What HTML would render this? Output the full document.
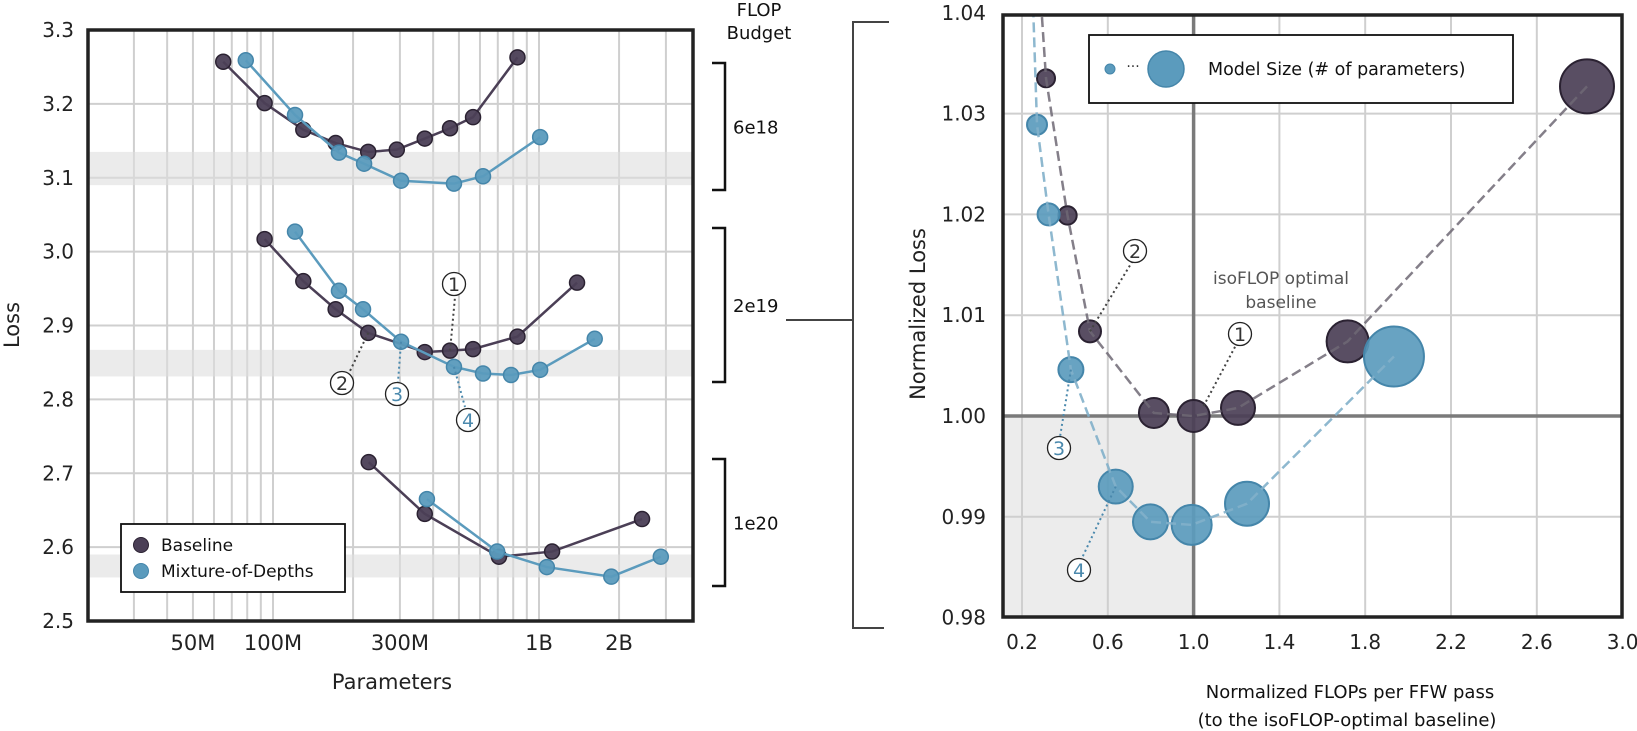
<!DOCTYPE html>
<html><head><meta charset="utf-8"><style>
html,body{margin:0;padding:0;background:#fff;}
svg{display:block;}
text{font-family:"DejaVu Sans","Liberation Sans",sans-serif;}
</style></head><body>
<svg id="fig" width="1637" height="731" viewBox="0 0 1637 731" xmlns="http://www.w3.org/2000/svg">
<defs>
<clipPath id="clipL"><rect x="88" y="30" width="605" height="591"/></clipPath>
<clipPath id="clipR"><rect x="1003" y="15" width="619" height="602"/></clipPath>
</defs>
<g id="left"></g>
<g id="mid"></g>
<g id="right"></g>
</svg>
<script>
// ---------- Left chart data ----------
const leftYTicks = [2.5, 2.6, 2.7, 2.8, 2.9, 3.0, 3.1, 3.2, 3.3];
const leftXTickVals = [5e7, 1e8, 3e8, 1e9, 2e9];
const leftXTickLabels = ["50M", "100M", "300M", "1B", "2B"];
const budgets = ["6e18", "2e19", "1e20"];
const base6e18Params = [65e6, 93e6, 130e6, 172e6, 228e6, 292e6, 372e6, 463e6, 565e6, 830e6];
const base6e18Loss = [3.257, 3.201, 3.165, 3.147, 3.135, 3.138, 3.153, 3.167, 3.182, 3.263];
const mod6e18Params = [79e6, 121e6, 177e6, 220e6, 303e6, 479e6, 616e6, 1.01e9];
const mod6e18Loss = [3.259, 3.185, 3.134, 3.119, 3.096, 3.092, 3.102, 3.155];
const base2e19Params = [93e6, 130e6, 172e6, 228e6, 372e6, 463e6, 565e6, 830e6, 1.39e9];
const base2e19Loss = [3.017, 2.960, 2.922, 2.890, 2.864, 2.866, 2.868, 2.885, 2.958];
const mod2e19Params = [121e6, 177e6, 218e6, 303e6, 479e6, 616e6, 785e6, 1.01e9, 1.62e9];
const mod2e19Loss = [3.027, 2.947, 2.922, 2.878, 2.844, 2.835, 2.833, 2.840, 2.882];
const base1e20Params = [229e6, 372e6, 707e6, 1.12e9, 2.44e9];
const base1e20Loss = [2.715, 2.645, 2.587, 2.594, 2.638];
const mod1e20Params = [379e6, 696e6, 1.07e9, 1.87e9, 2.87e9];
const mod1e20Loss = [2.665, 2.594, 2.573, 2.560, 2.587];
const bandLo = [3.090, 2.831, 2.559];
const bandHi = [3.135, 2.867, 2.590];

// ---------- Right chart data ----------
const rightXTicks = [0.2, 0.6, 1.0, 1.4, 1.8, 2.2, 2.6, 3.0];
const rightYTicks = [0.98, 0.99, 1.00, 1.01, 1.02, 1.03, 1.04];
const baseFlops = [0.27, 0.312, 0.412, 0.517, 0.815, 1.0, 1.207, 1.718, 2.834];
const baseNormLoss = [1.047, 1.0335, 1.0199, 1.0084, 1.0003, 1.0000, 1.0008, 1.0074, 1.0327];
const baseSizeM = [60, 76, 82, 142, 333, 394, 459, 772, 1391];
const modFlops = [0.245, 0.270, 0.324, 0.428, 0.637, 0.799, 0.991, 1.249, 1.934];
const modNormLoss = [1.045, 1.0289, 1.0200, 1.0046, 0.9930, 0.9895, 0.9892, 0.9913, 1.0059];
const modSizeM = [80, 106, 142, 204, 459, 494, 686, 862, 1769];

const NS = "http://www.w3.org/2000/svg";
function mk(parent, tag, attrs, txt){
  const e = document.createElementNS(NS, tag);
  for (const k in attrs) e.setAttribute(k, attrs[k]);
  if (txt !== undefined) e.textContent = txt;
  parent.appendChild(e);
  return e;
}
const BASE_FILL = "#4b3f56", BASE_EDGE = "#2b2232";
const MOD_FILL = "#5b9bbd", MOD_EDGE = "#4586aa";

// ---------- Left chart ----------
const L = document.getElementById("left");
const lx = p => 273 + 266 * Math.log10(p / 1e8);
const ly = v => 30 + (3.3 - v) / 0.8 * 591;

const gl = mk(L, "g", {"clip-path": "url(#clipL)"});


for (let dec = 1e7; dec <= 1e9; dec *= 10) {
  for (let m = 1; m <= 9; m++) {
    const x = lx(dec * m);
    if (x < 88 || x > 693) continue;
    const ln = mk(gl, "line", {x1: x, x2: x, y1: 30, y2: 621, stroke: "#cfcfcf", "stroke-width": 2});
    
    
  }
}
for (const v of leftYTicks) {
  const ln = mk(gl, "line", {x1: 88, x2: 693, y1: ly(v), y2: ly(v), stroke: "#cfcfcf", "stroke-width": 2});
  
  
}
for (let i = 0; i < budgets.length; i++) {
  const r = mk(gl, "rect", {x: 88, y: ly(bandHi[i]), width: 605, height: ly(bandLo[i]) - ly(bandHi[i]), fill: "#dedede", opacity: 0.6});
  
  
}
for (const v of leftYTicks) {
  const t = mk(L, "text", {x: 74, y: ly(v) + 7, "text-anchor": "end", "font-size": 20, fill: "#222"}, v.toFixed(1));
  
  
}
for (let i = 0; i < leftXTickVals.length; i++) {
  const t = mk(L, "text", {x: lx(leftXTickVals[i]), y: 650, "text-anchor": "middle", "font-size": 21, fill: "#222"}, leftXTickLabels[i]);
  
  
}
const xt = mk(L, "text", {x: 392, y: 689, "text-anchor": "middle", "font-size": 21, fill: "#222"}, "Parameters");


const yt = mk(L, "text", {x: 0, y: 0, "text-anchor": "middle", "font-size": 21, fill: "#222", transform: "translate(19,325) rotate(-90)"}, "Loss");



function leftSeries(params, loss, fill, edge, name) {
  const g = mk(L, "g", {"clip-path": "url(#clipL)"});
  
  
  const pts = params.map((p, i) => lx(p) + "," + ly(loss[i])).join(" ");
  const pl = mk(g, "polyline", {points: pts, fill: "none", stroke: fill, "stroke-width": 2.5});
  
  
  params.forEach((p, i) => {
    const c = mk(g, "circle", {cx: lx(p), cy: ly(loss[i]), r: 7.5, fill: fill, stroke: edge, "stroke-width": 1.5, "fill-opacity": 0.95});
    
    
  });
}
leftSeries(base6e18Params, base6e18Loss, BASE_FILL, BASE_EDGE, "baseline-6e18");
leftSeries(mod6e18Params, mod6e18Loss, MOD_FILL, MOD_EDGE, "mod-6e18");
leftSeries(base2e19Params, base2e19Loss, BASE_FILL, BASE_EDGE, "baseline-2e19");
leftSeries(mod2e19Params, mod2e19Loss, MOD_FILL, MOD_EDGE, "mod-2e19");
leftSeries(base1e20Params, base1e20Loss, BASE_FILL, BASE_EDGE, "baseline-1e20");
leftSeries(mod1e20Params, mod1e20Loss, MOD_FILL, MOD_EDGE, "mod-1e20");

function annot(parent, x1, y1, x2, y2, cx, cy, label, lineColor, textColor, name) {
  const g = mk(parent, "g", {});
  
  
  mk(g, "line", {x1: x1, y1: y1, x2: x2, y2: y2, stroke: lineColor, "stroke-width": 2, "stroke-dasharray": "2,3"});
  mk(g, "circle", {cx: cx, cy: cy, r: 11.5, fill: "#fff", stroke: "#222", "stroke-width": 1.3});
  mk(g, "text", {x: cx, y: cy + 7, "text-anchor": "middle", "font-size": 19, fill: textColor, "font-family": "Liberation Sans, sans-serif"}, label);
}
annot(L, lx(463e6), ly(2.866), 455, 297, 454, 284, "1", "#444", "#333", "annotation-1-left");
annot(L, lx(228e6), ly(2.890), 350, 371, 342, 383, "2", "#444", "#333", "annotation-2-left");
annot(L, lx(303e6), ly(2.878), 398, 382, 397, 394, "3", "#4b89ad", "#4b89ad", "annotation-3-left");
annot(L, lx(479e6), ly(2.844), 465, 407, 468, 420, "4", "#4b89ad", "#4b89ad", "annotation-4-left");

const lg = mk(L, "g", {});


mk(lg, "rect", {x: 121, y: 524, width: 224, height: 68, fill: "#fff", stroke: "#111", "stroke-width": 1.8});
const le1 = mk(lg, "circle", {cx: 141, cy: 545, r: 7.5, fill: BASE_FILL, stroke: BASE_EDGE});


mk(lg, "text", {x: 161, y: 551, "font-size": 17, fill: "#111"}, "Baseline");
const le2 = mk(lg, "circle", {cx: 141, cy: 571, r: 7.5, fill: MOD_FILL, stroke: MOD_EDGE});


mk(lg, "text", {x: 161, y: 577, "font-size": 17, fill: "#111"}, "Mixture-of-Depths");

const lf = mk(L, "rect", {x: 88, y: 30, width: 605, height: 591, fill: "none", stroke: "#222", "stroke-width": 3.5});



// ---------- Middle brackets ----------
const M = document.getElementById("mid");
const ft = mk(M, "text", {x: 759, y: 16, "text-anchor": "middle", "font-size": 18, fill: "#111"}, "FLOP");


mk(M, "text", {x: 759, y: 39, "text-anchor": "middle", "font-size": 18, fill: "#111"}, "Budget");
const brY = [[63, 190], [228, 382], [459, 586]];
budgets.forEach((b, i) => {
  const [a, c] = brY[i];
  const p = mk(M, "path", {d: `M712 ${a} H725 V${c} H712`, fill: "none", stroke: "#111", "stroke-width": 2.5});
  
  
  const t = mk(M, "text", {x: 733, y: (a + c) / 2 + 7, "font-size": 18, fill: "#111"}, b);
  
  
});
const bigB = mk(M, "path", {d: "M889 22 H853 V628 H884 M786 320 H853", fill: "none", stroke: "#444", "stroke-width": 2});



// ---------- Right chart ----------
const R = document.getElementById("right");
const rx = v => 1022 + (v - 0.2) * 214.5;
const ry = v => 416 - (v - 1.0) * 10080;
const rad = s => 3.5 + 0.63 * Math.sqrt(s);

const rg = mk(R, "g", {"clip-path": "url(#clipR)"});


const shade = mk(rg, "rect", {x: 1003, y: ry(1.0), width: rx(1.0) - 1003, height: ry(0.98) - ry(1.0), fill: "#ececec"});


for (const v of rightXTicks) {
  const ln = mk(rg, "line", {x1: rx(v), x2: rx(v), y1: 15, y2: 617, stroke: "#cfcfcf", "stroke-width": 2});
  
  
}
for (const v of rightYTicks) {
  const ln = mk(rg, "line", {x1: 1003, x2: 1622, y1: ry(v), y2: ry(v), stroke: "#cfcfcf", "stroke-width": 2});
  
  
}
const refV = mk(rg, "line", {x1: rx(1.0), x2: rx(1.0), y1: 15, y2: 617, stroke: "#7a7a7a", "stroke-width": 3.5});


const refH = mk(rg, "line", {x1: 1003, x2: 1622, y1: ry(1.0), y2: ry(1.0), stroke: "#7a7a7a", "stroke-width": 3.5});



function rightSeries(xs, ys, sizes, fill, edge, lineColor, name) {
  const g = mk(rg, "g", {});
  
  
  xs.forEach((v, i) => {
    const c = mk(g, "circle", {cx: rx(v), cy: ry(ys[i]), r: rad(sizes[i]), fill: fill, stroke: edge, "stroke-width": 2, "fill-opacity": 0.92});
    
    
  });
  const pts = xs.map((v, i) => rx(v) + "," + ry(ys[i])).join(" ");
  const pl = mk(g, "polyline", {points: pts, fill: "none", stroke: lineColor, "stroke-width": 2.5, "stroke-dasharray": "10,5"});
  
  
}
rightSeries(baseFlops, baseNormLoss, baseSizeM, BASE_FILL, BASE_EDGE, "rgba(110,104,116,0.85)", "baseline-normalized");
rightSeries(modFlops, modNormLoss, modSizeM, MOD_FILL, MOD_EDGE, "rgba(130,176,202,0.9)", "mod-normalized");

const iso1 = mk(R, "text", {x: 1281, y: 284, "text-anchor": "middle", "font-size": 17, fill: "#555"}, "isoFLOP optimal");


mk(R, "text", {x: 1281, y: 308, "text-anchor": "middle", "font-size": 17, fill: "#555"}, "baseline");

annot(R, rx(1.0) + 10, ry(1.0) - 10, 1236, 345, 1240, 334, "1", "#444", "#333", "annotation-1-right");
annot(R, rx(0.517), ry(1.0084), 1132, 262, 1135, 251, "2", "#444", "#333", "annotation-2-right");
annot(R, rx(0.428), ry(1.0046), 1060, 437, 1059, 448, "3", "#4b89ad", "#4b89ad", "annotation-3-right");
annot(R, rx(0.637), ry(0.993), 1082, 558, 1079, 570, "4", "#4b89ad", "#4b89ad", "annotation-4-right");

const rl = mk(R, "g", {});


mk(rl, "rect", {x: 1089, y: 35, width: 424, height: 68, fill: "#fff", stroke: "#111", "stroke-width": 1.8});
mk(rl, "circle", {cx: 1110, cy: 69, r: 5, fill: MOD_FILL, stroke: MOD_EDGE});
mk(rl, "text", {x: 1133, y: 71, "text-anchor": "middle", "font-size": 14, fill: "#333"}, "···");
mk(rl, "circle", {cx: 1166, cy: 69, r: 18, fill: MOD_FILL, stroke: MOD_EDGE, "stroke-width": 1.5});
mk(rl, "text", {x: 1208, y: 75, "font-size": 17.5, fill: "#111"}, "Model Size (# of parameters)");

const rf = mk(R, "rect", {x: 1003, y: 15, width: 619, height: 602, fill: "none", stroke: "#222", "stroke-width": 3.5});



for (const v of rightYTicks) {
  const t = mk(R, "text", {x: 986, y: ry(v) + 7, "text-anchor": "end", "font-size": 20, fill: "#222"}, v.toFixed(2));
  
  
}
for (const v of rightXTicks) {
  const t = mk(R, "text", {x: rx(v), y: 649, "text-anchor": "middle", "font-size": 20, fill: "#222"}, v.toFixed(1));
  
  
}
const rxt = mk(R, "text", {x: 1350, y: 698, "text-anchor": "middle", "font-size": 18, fill: "#111", "font-family": "Liberation Sans, sans-serif"}, "Normalized FLOPs per FFW pass");


mk(R, "text", {x: 1347, y: 726, "text-anchor": "middle", "font-size": 18, fill: "#111", "font-family": "Liberation Sans, sans-serif"}, "(to the isoFLOP-optimal baseline)");
const ryt = mk(R, "text", {x: 0, y: 0, "text-anchor": "middle", "font-size": 21, fill: "#222", transform: "translate(925,314) rotate(-90)", "font-family": "Liberation Sans, sans-serif"}, "Normalized Loss");


</script>
</body></html>
